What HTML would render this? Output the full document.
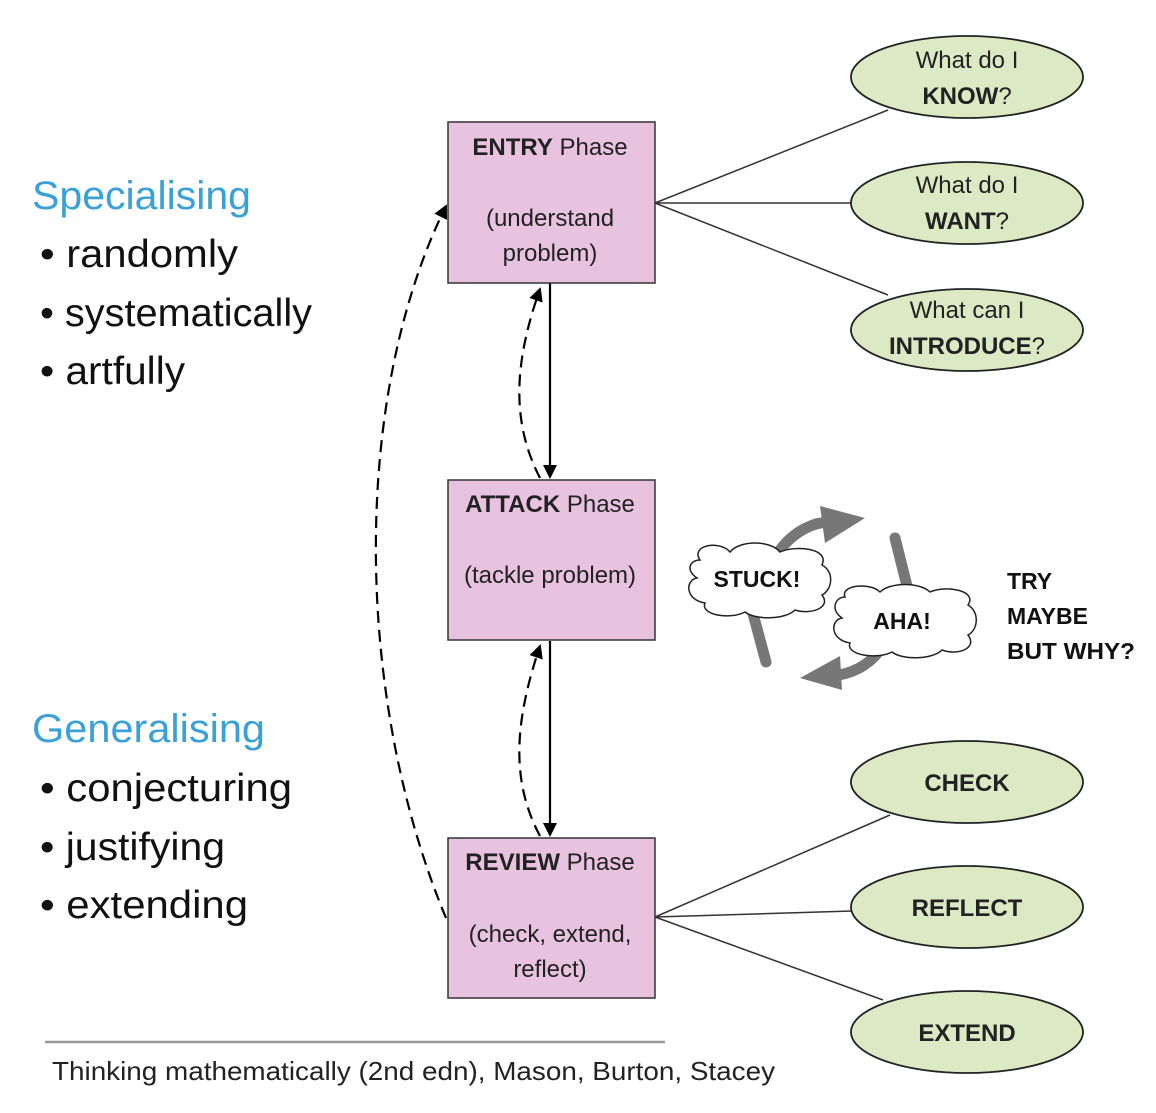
<!DOCTYPE html>
<html><head><meta charset="utf-8"><style>
body{margin:0;background:#fff;}
svg text{font-family:"Liberation Sans",sans-serif;}
</style></head><body>
<svg width="1156" height="1108" viewBox="0 0 1156 1108" xmlns="http://www.w3.org/2000/svg">
<defs>
<marker id="ah2" markerWidth="14" markerHeight="14" refX="12" refY="7" orient="auto" markerUnits="userSpaceOnUse"><path d="M0,0 L14,7 L0,14 Z" fill="#000"/></marker>
</defs>
<g stroke="#333" stroke-width="1.5" fill="none">
<line x1="655" y1="203" x2="888" y2="110"/>
<line x1="655" y1="203" x2="852" y2="203"/>
<line x1="655" y1="203" x2="888" y2="295"/>
<line x1="655" y1="917" x2="890" y2="815"/>
<line x1="655" y1="917" x2="852" y2="911"/>
<line x1="655" y1="917" x2="883" y2="1000"/>
</g>
<g stroke="#000" stroke-width="2.2" fill="none">
<line x1="550" y1="283" x2="550" y2="477" marker-end="url(#ah2)"/>
<line x1="550" y1="641" x2="550" y2="835" marker-end="url(#ah2)"/>
<path d="M540,478 C510,420 515,360 540,289" stroke-dasharray="12,7" marker-end="url(#ah2)"/>
<path d="M540,836 C510,780 515,720 540,646" stroke-dasharray="12,7" marker-end="url(#ah2)"/>
<path d="M446,918 C355,700 350,400 446,206" stroke-dasharray="12,7" marker-end="url(#ah2)"/>
</g>
<g fill="#e8c3e0" stroke="#333" stroke-width="1.5">
<rect x="448" y="122" width="207" height="161"/>
<rect x="448" y="480" width="207" height="160"/>
<rect x="448" y="838" width="207" height="160"/>
</g>
<g font-size="24" fill="#222" text-anchor="middle">
<text x="550" y="155"><tspan font-weight="bold">ENTRY</tspan> Phase</text>
<text x="550" y="226">(understand</text>
<text x="550" y="261">problem)</text>
<text x="550" y="512"><tspan font-weight="bold">ATTACK</tspan> Phase</text>
<text x="550" y="583">(tackle problem)</text>
<text x="550" y="870"><tspan font-weight="bold">REVIEW</tspan> Phase</text>
<text x="550" y="942">(check, extend,</text>
<text x="550" y="977">reflect)</text>
</g>
<g fill="#dde9c4" stroke="#222" stroke-width="1.8">
<ellipse cx="967" cy="77" rx="116" ry="41"/>
<ellipse cx="967" cy="203" rx="116" ry="41"/>
<ellipse cx="967" cy="330" rx="116" ry="41"/>
<ellipse cx="967" cy="782" rx="116" ry="41"/>
<ellipse cx="967" cy="907" rx="116" ry="41"/>
<ellipse cx="967" cy="1032" rx="116" ry="41"/>
</g>
<g font-size="24" fill="#222" text-anchor="middle">
<text x="967" y="68">What do I</text>
<text x="967" y="104"><tspan font-weight="bold">KNOW</tspan>?</text>
<text x="967" y="193">What do I</text>
<text x="967" y="229"><tspan font-weight="bold">WANT</tspan>?</text>
<text x="967" y="318">What can I</text>
<text x="967" y="354"><tspan font-weight="bold">INTRODUCE</tspan>?</text>
<text x="967" y="791" font-weight="bold">CHECK</text>
<text x="967" y="916" font-weight="bold">REFLECT</text>
<text x="967" y="1041" font-weight="bold">EXTEND</text>
</g>
<g stroke="#777" stroke-width="11" fill="none" stroke-linecap="round">
<path d="M780,550 C795,530 815,522 830,522"/>
<line x1="895" y1="538" x2="908" y2="590"/>
<line x1="752" y1="610" x2="766" y2="662"/>
<path d="M880,650 C865,670 845,675 830,676"/>
</g>
<path d="M820,506 L865,518 L825,543 Z" fill="#777"/>
<path d="M800,678 L840,656 L842,690 Z" fill="#777"/>
<g fill="#fff" stroke="#222" stroke-width="1.5">
<path d="M700,560 C690,545 720,540 730,552 C740,540 770,540 780,552 C795,545 830,548 822,565 C835,572 832,590 822,595 C832,608 810,615 795,610 C785,620 755,620 745,612 C730,620 700,615 705,603 C685,600 685,580 697,578 C685,570 690,560 700,560 Z"/>
<path d="M845,597 C840,585 870,582 880,592 C890,582 920,582 930,592 C945,585 978,590 968,605 C980,612 978,630 968,635 C978,648 958,656 942,650 C932,660 902,660 892,652 C877,660 845,655 850,643 C830,640 830,620 842,618 C830,610 835,597 845,597 Z"/>
</g>
<g font-size="23" font-weight="bold" fill="#111">
<text x="757" y="587" text-anchor="middle">STUCK!</text>
<text x="902" y="629" text-anchor="middle">AHA!</text>
<text x="1007" y="589">TRY</text>
<text x="1007" y="624">MAYBE</text>
<text x="1007" y="659" textLength="128" lengthAdjust="spacingAndGlyphs">BUT WHY?</text>
</g>
<text x="32" y="209" font-size="40" fill="#3aa0d8" textLength="219" lengthAdjust="spacingAndGlyphs">Specialising</text>
<g font-size="39" fill="#111">
<text x="40" y="267" textLength="198" lengthAdjust="spacingAndGlyphs">• randomly</text>
<text x="40" y="326" textLength="272" lengthAdjust="spacingAndGlyphs">• systematically</text>
<text x="40" y="384" textLength="145" lengthAdjust="spacingAndGlyphs">• artfully</text>
</g>
<text x="32" y="742" font-size="40" fill="#3aa0d8" textLength="233" lengthAdjust="spacingAndGlyphs">Generalising</text>
<g font-size="39" fill="#111">
<text x="40" y="801" textLength="252" lengthAdjust="spacingAndGlyphs">• conjecturing</text>
<text x="40" y="860" textLength="185" lengthAdjust="spacingAndGlyphs">• justifying</text>
<text x="40" y="918" textLength="208" lengthAdjust="spacingAndGlyphs">• extending</text>
</g>
<line x1="45" y1="1042" x2="665" y2="1042" stroke="#999" stroke-width="2.5"/>
<text x="52" y="1080" font-size="26" fill="#222" textLength="723" lengthAdjust="spacingAndGlyphs">Thinking mathematically (2nd edn), Mason, Burton, Stacey</text>
</svg>
</body></html>
